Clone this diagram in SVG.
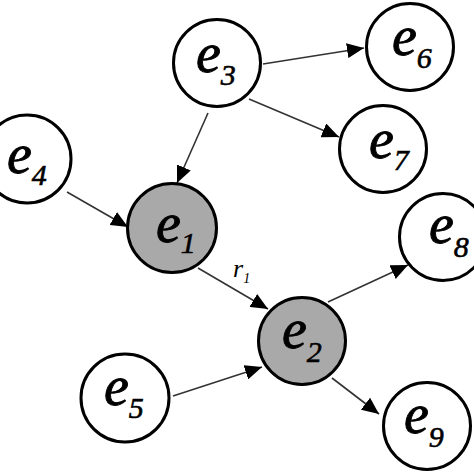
<svg xmlns="http://www.w3.org/2000/svg" width="474" height="474" viewBox="0 0 474 474">
<style>
.n{fill:#fff;stroke:#000;stroke-width:3}
.g{fill:#a9a9a9}
.e{font-family:'Liberation Serif','Times New Roman',serif;font-style:italic;font-size:56px;fill:#000;stroke:#000;stroke-width:0.9}
.s{font-size:30px;stroke-width:0.6}
.c{stroke:#333;stroke-width:1.6;fill:none;marker-end:url(#a)}
.l{font-family:'Liberation Serif','Times New Roman',serif;font-style:italic;font-size:26px;fill:#000}
</style>
<defs>
<marker id="a" markerUnits="userSpaceOnUse" markerWidth="17" markerHeight="15" refX="17" refY="7.5" orient="auto">
<path d="M0,0 L17,7.5 L0,15 z" fill="#000"/>
</marker>
</defs>
<rect width="474" height="474" fill="#fff"/>
<g id="connectors">
<line class="c" x1="263" y1="64" x2="364" y2="48"/>
<line class="c" x1="249" y1="99" x2="339" y2="137"/>
<line class="c" x1="208" y1="113" x2="177" y2="183"/>
<line class="c" x1="67" y1="192" x2="128" y2="227"/>
<line class="c" x1="198" y1="268" x2="268" y2="309"/>
<line class="c" x1="173" y1="396" x2="262" y2="367"/>
<line class="c" x1="328" y1="302" x2="408" y2="265"/>
<line class="c" x1="332" y1="378" x2="379" y2="414"/>
<text class="l" x="233" y="277">r<tspan font-size="14" dy="6">1</tspan></text>
</g>
<g id="e3"><circle class="n" cx="217" cy="63" r="43.5"/><text class="e" x="196" y="72">e<tspan class="s" dy="13">3</tspan></text></g>
<g id="e6"><circle class="n" cx="410" cy="47" r="43.5"/><text class="e" x="392" y="55">e<tspan class="s" dy="13">6</tspan></text></g>
<g id="e7"><circle class="n" cx="383" cy="149" r="43.5"/><text class="e" x="369" y="158">e<tspan class="s" dy="12">7</tspan></text></g>
<g id="e4"><circle class="n" cx="27" cy="159" r="44"/><text class="e" x="7" y="173">e<tspan class="s" dy="12">4</tspan></text></g>
<g id="e1"><circle class="n g" cx="172" cy="228" r="44.5"/><text class="e" x="156" y="242">e<tspan class="s" dy="11">1</tspan></text></g>
<g id="e8"><circle class="n" cx="443" cy="237" r="43.5"/><text class="e" x="429" y="243">e<tspan class="s" dy="14">8</tspan></text></g>
<g id="e2"><circle class="n g" cx="302" cy="341" r="43.5"/><text class="e" x="282" y="348">e<tspan class="s" dy="14">2</tspan></text></g>
<g id="e5"><circle class="n" cx="125" cy="398" r="44"/><text class="e" x="104" y="405">e<tspan class="s" dy="13">5</tspan></text></g>
<g id="e9"><circle class="n" cx="427" cy="426" r="43.5"/><text class="e" x="404" y="433">e<tspan class="s" dy="14">9</tspan></text></g>
</svg>
